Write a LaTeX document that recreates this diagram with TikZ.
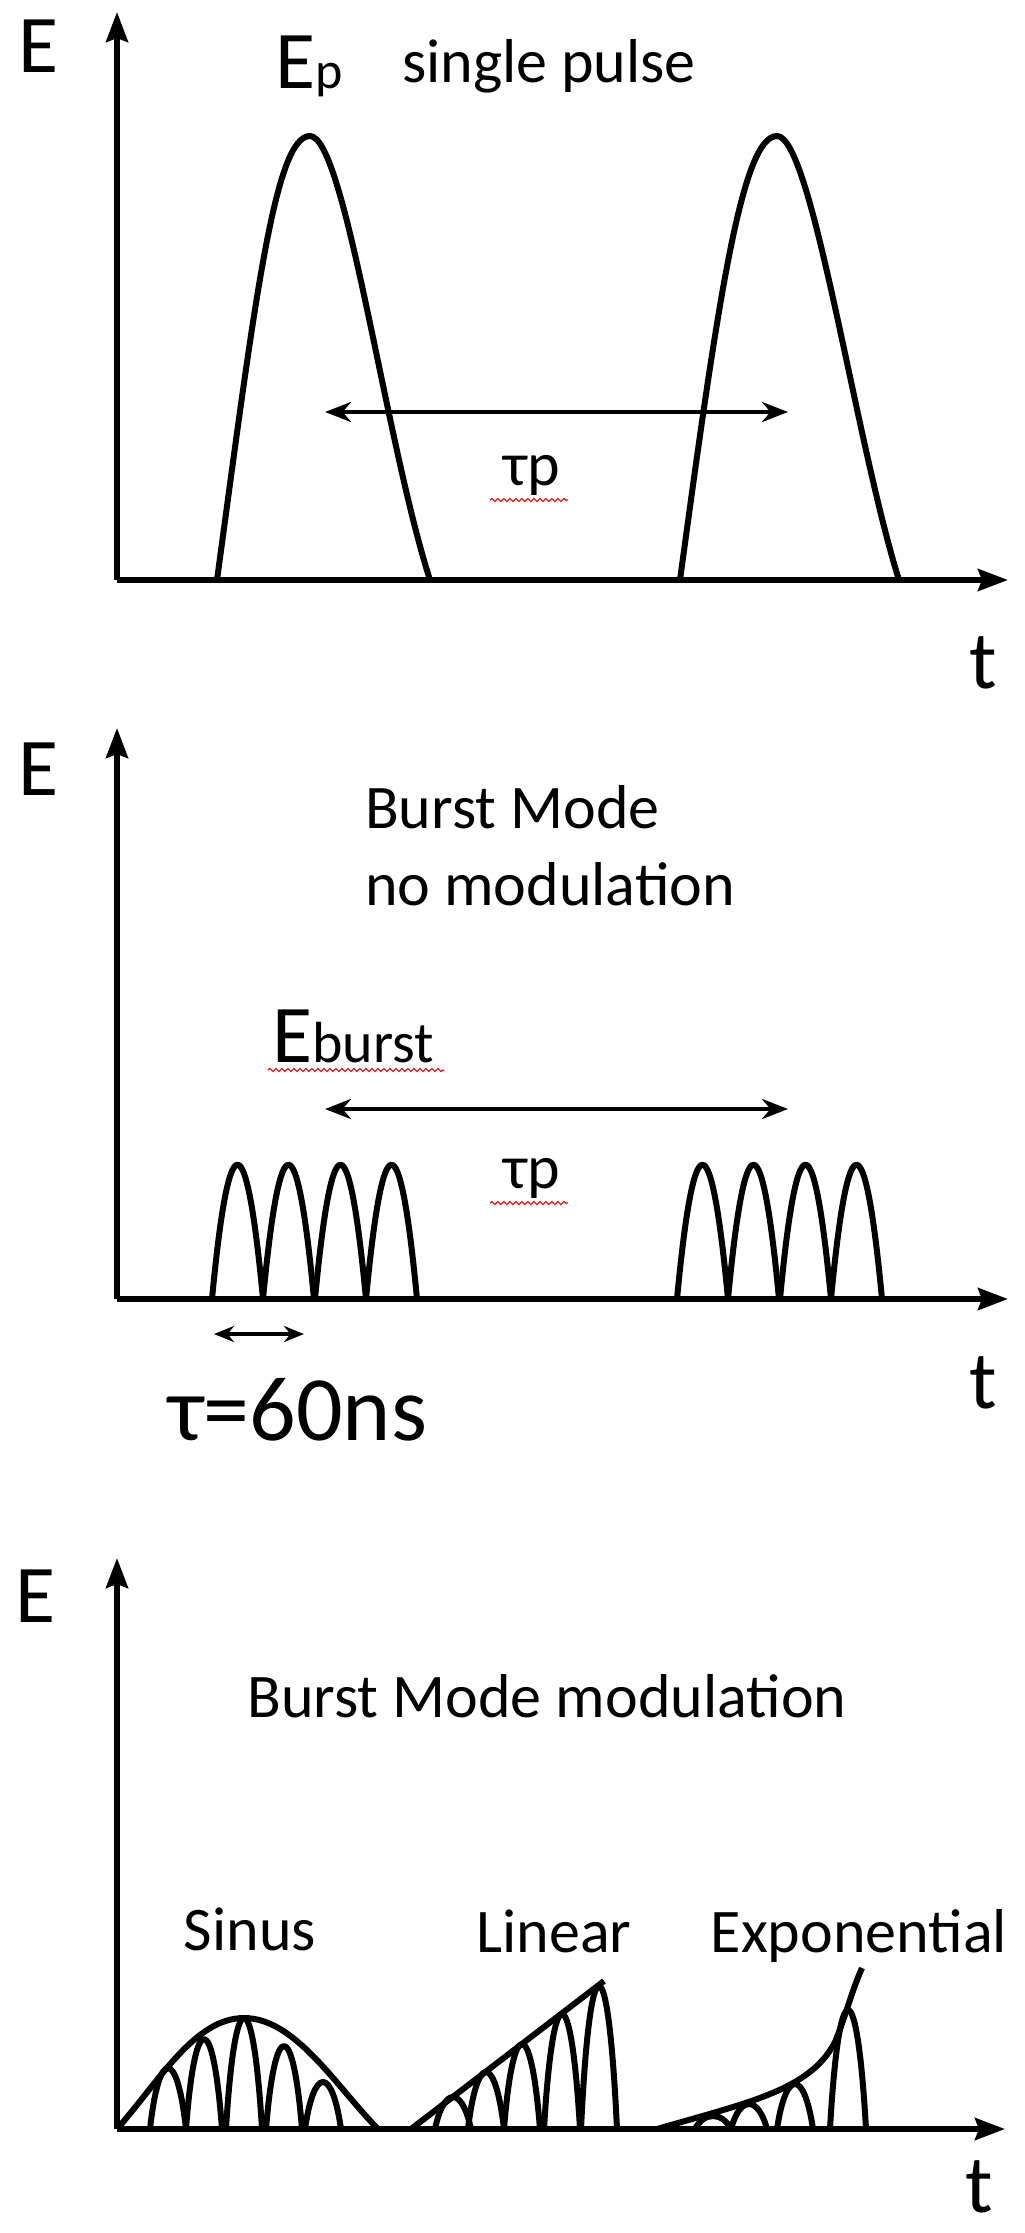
\documentclass[tikz,border=0pt]{standalone}
\usepackage{fontspec}
\setmainfont{Carlito}
\usetikzlibrary{arrows.meta,decorations.pathmorphing}
\begin{document}
\begin{tikzpicture}[x=1pt,y=-1pt,
  ln/.style={line width=6pt,line join=round},
  axis/.style={line width=5.5pt,-{Stealth[length=30pt,width=22pt,inset=4pt]}},
  dbl/.style={line width=4.5pt,{Stealth[length=26pt,width=20pt]}-{Stealth[length=26pt,width=20pt]}},
  sdbl/.style={line width=4.5pt,{Stealth[length=20pt,width=16pt]}-{Stealth[length=20pt,width=16pt]}},
  lab/.style={inner sep=0pt,font=\fontsize{62}{70}\selectfont},
  big/.style={inner sep=0pt,font=\fontsize{82}{90}\selectfont},
  wavy/.style={red,line width=1.2pt,decorate,decoration={snake,amplitude=1.5pt,segment length=6pt}}]
\useasboundingbox (0,0) rectangle (1025,2233);
\fill[white] (0,0) rectangle (1025,2233);
% ---------- panel 1
\coordinate (o1) at (117,580);
\draw[axis] (o1) -- (117,12);
\draw[axis] (o1) -- (1008,580);
\node[big,anchor=base] (E1) at (39,72) {E};
\node[big,anchor=base] (t1) at (983,688) {t};
\draw[ln] (217,580) .. controls (255,300) and (275,136) .. (310,136)
  .. controls (345,136) and (385,440) .. (430,580);
\draw[ln] (680,580) .. controls (718,300) and (742,136) .. (777,136)
  .. controls (812,136) and (855,440) .. (899,580);
\node[anchor=base west,inner sep=0pt] (Ep) at (275,88) {\fontsize{82}{90}\selectfont E\fontsize{52}{60}\selectfont p};
\node[lab,anchor=base] (sp) at (549,82) {single pulse};
\coordinate (a1) at (325,412); \coordinate (b1) at (788,412);
\draw[dbl] (a1) -- (b1);
\node[lab,anchor=base] (tp1) at (532,485) {τp};
\draw[wavy] (490,500) -- (568,500);
% ---------- panel 2
\coordinate (o2) at (117,1299);
\draw[axis] (o2) -- (117,728);
\draw[axis] (o2) -- (1008,1299);
\node[big,anchor=base] (E2) at (39,795) {E};
\node[big,anchor=base] (t2) at (983,1408) {t};
\node[lab,anchor=base west] (bm) at (365,828) {Burst Mode};
\node[lab,anchor=base west] (nm) at (365,905) {no modulation};
\node[anchor=base west,inner sep=0pt] (Eb) at (272,1062) {\fontsize{82}{90}\selectfont E\fontsize{58}{60}\selectfont burst};
\draw[wavy] (268,1070) -- (444,1070);
\coordinate (a2) at (325,1109); \coordinate (b2) at (788,1109);
\draw[dbl] (a2) -- (b2);
\node[lab,anchor=base] (tp2) at (532,1188) {τp};
\draw[wavy] (490,1203) -- (568,1203);
\foreach \s in {212,263,315,366, 677,728,780,831}{
  \draw[ln] (\s,1299) .. controls (\s+17,1120) and (\s+34,1120) .. (\s+51,1299);
}
\coordinate (a3) at (214,1334); \coordinate (b3) at (304,1334);
\draw[sdbl] (a3) -- (b3);
\node[anchor=base west,inner sep=0pt,font=\fontsize{92}{100}\selectfont] (tau) at (168,1440) {τ=60ns};
% ---------- panel 3
\coordinate (o3) at (117,2129);
\draw[axis] (o3) -- (117,1558);
\draw[axis] (o3) -- (1005,2129);
\node[big,anchor=base] (E3) at (36,1622) {E};
\node[big,anchor=base] (t3) at (979,2212) {t};
\node[lab,anchor=base] (bmm) at (547,1717) {Burst Mode modulation};
\node[lab,anchor=base] (sin) at (250,1950) {Sinus};
\node[lab,anchor=base] (lin) at (554,1952) {Linear};
\node[lab,anchor=base] (exp) at (859,1952) {Exponential};
% sinus envelope
\draw[ln] (117,2129) .. controls (160,2080) and (195,2018) .. (244,2018)
  .. controls (295,2018) and (335,2085) .. (378,2129);
\foreach \p/\h in {168/2068,204/2039,244/2018,284/2046,323/2082}{
  \draw[ln] (\p-18,2129) .. controls (\p-9,{2129+(\h-2129)*4/3}) and (\p+9,{2129+(\h-2129)*4/3}) .. (\p+18,2129);
}
% linear
\draw[ln] (411,2129) -- (604,1981);
\foreach \p/\h in {453/2097,486/2072,522/2044,562/2014,599/1986}{
  \draw[ln] (\p-18,2129) .. controls (\p-9,{2129+(\h-2129)*4/3}) and (\p+9,{2129+(\h-2129)*4/3}) .. (\p+18,2129);
}
% exponential
\draw[ln] (657,2129) .. controls (750,2102) and (810,2090) .. (835,2042)
  .. controls (845,2018) and (852,1990) .. (862,1968);
\foreach \p/\h in {713/2116,749/2104,795/2084,848/2010}{
  \draw[ln] (\p-18,2129) .. controls (\p-9,{2129+(\h-2129)*4/3}) and (\p+9,{2129+(\h-2129)*4/3}) .. (\p+18,2129);
}
\end{tikzpicture}
\end{document}
